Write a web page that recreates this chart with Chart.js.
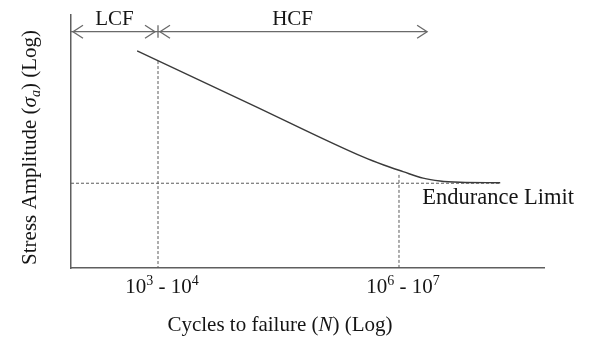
<!DOCTYPE html>
<html>
<head>
<meta charset="utf-8">
<script src="https://cdn.jsdelivr.net/npm/chart.js@4/dist/chart.umd.min.js"></script>
<style>
html,body{margin:0;padding:0;background:#fff;}
#wrap{width:591px;height:351px;}
</style>
</head>
<body>
<div id="wrap"><canvas id="c" width="591" height="351"></canvas></div>
<script>
// ---- data (x in log10 cycles, y in relative log stress units) ----
const xRange = [2.417, 8.305];
const yRange = [0, 100];
const curveN = [3.24, 4.65, 6.06, 6.31, 6.55, 6.80, 7.01, 7.26, 7.76];
const curveS = [85.8, 64.8, 43.8, 40.7, 38.1, 35.5, 34.4, 33.9, 33.7];
const enduranceLimit = 33.5;
const enduranceEnd = 7.76;
const enduranceLabel = "Endurance Limit";
const enduranceLabelX = 6.79;
const tickValues = [3.5, 6.5];
const tickLabels = ["10^3 - 10^4", "10^6 - 10^7"];
const dropTops = [81.8, 36.8];
const regionNames = ["LCF", "HCF"];
const regionBounds = [2.417, 3.5, 6.85];
const regionArrowY = 93.4;
const xTitle = [["Cycles to failure (", "n"], ["N", "i"], [") (Log)", "n"]];
const yTitle = [["Stress Amplitude (", "n"], ["σ", "i"], ["a", "subi"], [") (Log)", "n"]];

const FONT = "'Liberation Serif', 'Times New Roman', serif";
const TEXT = "#151515";

const dash = {borderColor:'#5a5a5a', borderWidth:1, borderDash:[3,2], pointRadius:0, fill:false, clip:false};
const datasets = [
  {data: curveN.map((x,i)=>({x, y: curveS[i]})), borderColor:'#3a3a3a', borderWidth:1.4,
   cubicInterpolationMode:'monotone', pointRadius:0, fill:false, clip:false},
  Object.assign({data:[{x:xRange[0], y:enduranceLimit},{x:enduranceEnd, y:enduranceLimit}]}, dash),
];
tickValues.forEach((v,i)=>{
  datasets.push(Object.assign({data:[{x:v, y:dropTops[i]},{x:v, y:yRange[0]}]}, dash));
});
datasets.push({data:[{x:regionBounds[0], y:regionArrowY},{x:regionBounds[regionBounds.length-1], y:regionArrowY}],
  borderColor:'#6a6a6a', borderWidth:1.3, pointRadius:0, fill:false, clip:false});

function segFont(f){
  if (f === 'i') return "italic 21px " + FONT;
  if (f === 'sup') return "14px " + FONT;
  if (f === 'subi') return "italic 14px " + FONT;
  return "21px " + FONT;
}
function drawRich(ctx, segs, x, y, align){
  let w = 0;
  const widths = segs.map(s=>{ctx.font = segFont(s[1]); const m = ctx.measureText(s[0]).width; w += m; return m;});
  let cx = align === 'center' ? x - w/2 : x;
  segs.forEach((s,i)=>{
    ctx.font = segFont(s[1]);
    let dy = 0;
    if (s[1] === 'sup') dy = -8;
    if (s[1] === 'subi') dy = 4;
    ctx.fillText(s[0], cx, y + dy);
    cx += widths[i];
  });
}
function parseSup(label){
  const segs = [];
  label.split(/(\^\d)/).forEach(p=>{
    if (!p) return;
    if (p[0] === '^') segs.push([p.slice(1), 'sup']); else segs.push([p, 'n']);
  });
  return segs;
}

const annot = {
  id:'annot',
  afterDraw(chart){
    const ctx = chart.ctx, xs = chart.scales.x, ys = chart.scales.y, ca = chart.chartArea;
    ctx.save();
    // arrowheads and separator
    const ay = ys.getPixelForValue(regionArrowY);
    ctx.strokeStyle = '#6a6a6a'; ctx.lineWidth = 1.3;
    const chevron = (tipX, dir) => {
      ctx.beginPath();
      ctx.moveTo(tipX - dir*10, ay - 6.5);
      ctx.lineTo(tipX, ay);
      ctx.lineTo(tipX - dir*10, ay + 6.5);
      ctx.stroke();
    };
    for (let i = 0; i < regionNames.length; i++) {
      const a = xs.getPixelForValue(regionBounds[i]);
      const b = xs.getPixelForValue(regionBounds[i+1]);
      chevron(a + 2, -1);
      chevron(i < regionNames.length - 1 ? b - 3 : b, 1);
      ctx.fillStyle = TEXT; ctx.textBaseline = 'alphabetic'; ctx.textAlign = 'left';
      drawRich(ctx, [[regionNames[i], 'n']], (a+b)/2, ay - 6.5, 'center');
    }
    for (let i = 1; i < regionBounds.length - 1; i++) {
      const m = xs.getPixelForValue(regionBounds[i]);
      ctx.beginPath(); ctx.moveTo(m, ay - 6.5); ctx.lineTo(m, ay + 6); ctx.stroke();
    }
    ctx.fillStyle = TEXT; ctx.textAlign = 'left'; ctx.textBaseline = 'alphabetic';
    // endurance label
    ctx.font = "22.5px " + FONT;
    ctx.fillText(enduranceLabel, xs.getPixelForValue(enduranceLabelX), ys.getPixelForValue(enduranceLimit) + 21);
    // tick labels
    tickValues.forEach((v,i)=>{
      drawRich(ctx, parseSup(tickLabels[i]), xs.getPixelForValue(v) + 4, ca.bottom + 25, 'center');
    });
    // x title
    drawRich(ctx, xTitle, ca.left + 209, ca.bottom + 63, 'center');
    // y title
    ctx.translate(ca.left - 35, (ca.top + ca.bottom)/2 + 6);
    ctx.rotate(-Math.PI/2);
    drawRich(ctx, yTitle, 0, 0, 'center');
    ctx.restore();
  }
};

new Chart(document.getElementById('c'), {
  type:'line',
  data:{datasets},
  options:{
    responsive:false, animation:false, devicePixelRatio:1,
    layout:{padding:{left:71, right:47, top:15, bottom:83}},
    plugins:{legend:{display:false}, tooltip:{enabled:false}},
    scales:{
      x:{type:'linear', min:xRange[0], max:xRange[1],
         ticks:{display:false}, grid:{display:false, drawTicks:false},
         border:{display:true, color:'#5f5f5f', width:1.5}},
      y:{type:'linear', min:yRange[0], max:yRange[1],
         ticks:{display:false}, grid:{display:false, drawTicks:false},
         border:{display:true, color:'#5f5f5f', width:1.5}}
    }
  },
  plugins:[annot]
});
</script>
</body>
</html>
